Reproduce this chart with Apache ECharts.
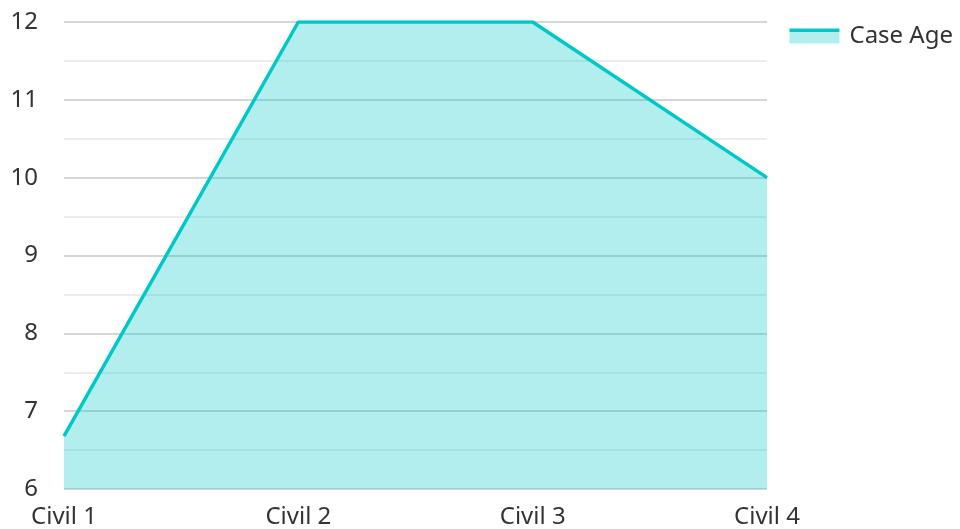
<!DOCTYPE html>
<html>
<head>
<meta charset="utf-8">
<script src="https://cdn.jsdelivr.net/npm/echarts@6/dist/echarts.min.js"></script>
<style>
  html, body { margin: 0; padding: 0; background: #fff; }
  #main { width: 960px; height: 529px; }
</style>
</head>
<body>
<div id="main"></div>
<script>
var categories = ['Civil 1', 'Civil 2', 'Civil 3', 'Civil 4'];
var caseAge = [6.68, 12, 12, 10];
var seriesName = 'Case Age';

var chart = echarts.init(document.getElementById('main'));
chart.setOption({
    backgroundColor: '#ffffff',
    textStyle: { fontFamily: 'Noto Sans' },
    grid: { left: 64, right: 193, top: 22, bottom: 40 },
    legend: {
        top: 19,
        right: 2,
        icon: 'rect',
        itemWidth: 50,
        itemHeight: 15,
        itemGap: 10,
        textStyle: { fontSize: 24, color: '#333', fontFamily: 'Noto Sans', padding: [0, 0, 0, 5] },
        itemStyle: {
            color: {
                type: 'linear', x: 0, y: 0, x2: 0, y2: 1,
                colorStops: [
                    { offset: 0, color: '#00c8c8' },
                    { offset: 0.24, color: '#00c8c8' },
                    { offset: 0.24, color: '#b2eeee' },
                    { offset: 1, color: '#b2eeee' }
                ]
            }
        },
        data: [seriesName]
    },
    xAxis: {
        type: 'category',
        boundaryGap: false,
        data: categories,
        axisLine: { show: false },
        axisTick: { show: false },
        axisLabel: { fontSize: 24, color: '#333', margin: 16, fontFamily: 'Noto Sans' }
    },
    yAxis: {
        type: 'value',
        min: 6,
        max: 12,
        interval: 1,
        axisLine: { show: false },
        axisTick: { show: false },
        axisLabel: { fontSize: 24, color: '#333', margin: 26, fontFamily: 'Noto Sans' },
        splitLine: { lineStyle: { color: '#c8c8c8', width: 1.5 } },
        minorTick: { show: false, splitNumber: 2 },
        minorSplitLine: { show: true, lineStyle: { color: '#e6e6e6', width: 1.5 } }
    },
    series: [{
        name: seriesName,
        type: 'line',
        data: caseAge,
        showSymbol: false,
        symbol: 'none',
        z: 1,
        lineStyle: { color: '#00c8c8', width: 3.5 },
        itemStyle: { color: '#00c8c8' },
        areaStyle: { color: 'rgba(0,200,200,0.3)', opacity: 1 }
    }]
});
</script>
</body>
</html>
